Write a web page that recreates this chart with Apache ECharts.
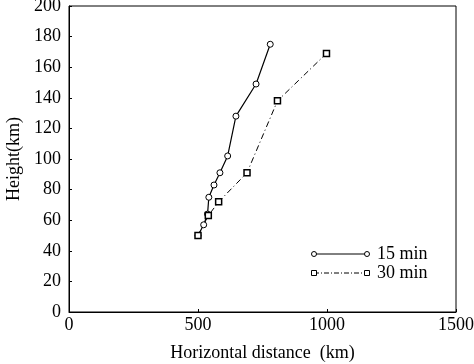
<!DOCTYPE html>
<html><head><meta charset="utf-8">
<script src="https://cdn.jsdelivr.net/npm/echarts@6/dist/echarts.min.js"></script>
<style>html,body{margin:0;padding:0;background:#fff}#c{width:474px;height:364px}</style>
</head><body><div id="c"></div>
<script>
const xTicks = [0, 500, 1000, 1500];
const yTicks = [0, 20, 40, 60, 80, 100, 120, 140, 160, 180, 200];
const s15x = [500, 522, 537, 542, 562, 585, 615, 647, 725, 780];
const s15y = [50, 57, 64, 75, 83, 91, 102, 128, 149, 175];
const s30x = [500, 540, 580, 690, 808, 998];
const s30y = [50, 63, 72, 91, 138, 169];
const names = ['15 min', '30 min'];

const font = '"Liberation Serif", "DejaVu Serif", serif';
const fs = 18;
const chart = echarts.init(document.getElementById('c'));
const axisCommon = {
  axisLine: {show: true, lineStyle: {color: '#000', width: 1}},
  axisTick: {show: true, inside: true, length: 3, lineStyle: {color: '#000'}},
  splitLine: {show: false},
  axisLabel: {color: '#000', fontFamily: font, fontSize: fs, formatter: v => String(v)}
};
chart.setOption({
  animation: false,
  backgroundColor: '#fff',
  grid: {left: 69, right: 18, top: 6, bottom: 52, show: true, borderColor: '#000', borderWidth: 1,
         containLabel: false, outerBoundsMode: 'none'},
  xAxis: Object.assign({}, axisCommon, {
    type: 'value', min: xTicks[0], max: xTicks[xTicks.length-1], interval: 500,
    name: 'Horizontal distance  (km)', nameLocation: 'middle', nameGap: 32,
    nameTextStyle: {color: '#000', fontFamily: font, fontSize: fs},
    axisLabel: Object.assign({}, axisCommon.axisLabel, {margin: 4})
  }),
  yAxis: Object.assign({}, axisCommon, {
    type: 'value', min: yTicks[0], max: yTicks[yTicks.length-1], interval: 20,
    name: 'Height(km)', nameLocation: 'middle', nameGap: 46,
    nameTextStyle: {color: '#000', fontFamily: font, fontSize: fs},
    axisLabel: Object.assign({}, axisCommon.axisLabel, {margin: 8})
  }),
  series: [
    {name: names[0], type: 'line', data: s15x.map((x,i)=>[x, s15y[i]]),
     symbol: 'circle', symbolSize: 6, showSymbol: true,
     itemStyle: {color: '#fff', borderColor: '#000', borderWidth: 1},
     lineStyle: {color: '#000', width: 1.2}},
    {name: names[1], type: 'line', data: s30x.map((x,i)=>[x, s30y[i]]),
     symbol: 'rect', symbolSize: 6, showSymbol: true,
     itemStyle: {color: '#fff', borderColor: '#000', borderWidth: 1.5},
     lineStyle: {color: '#000', width: 1, type: [6, 3, 1, 3]}}
  ],
  graphic: [
    {type: 'line', shape: {x1: 314, y1: 254, x2: 367, y2: 254}, style: {stroke: '#000', lineWidth: 1}},
    {type: 'circle', shape: {cx: 314, cy: 254, r: 2.5}, style: {fill: '#fff', stroke: '#000', lineWidth: 1}},
    {type: 'circle', shape: {cx: 367, cy: 254, r: 2.5}, style: {fill: '#fff', stroke: '#000', lineWidth: 1}},
    {type: 'text', x: 377, y: 254, style: {text: names[0], font: fs + 'px ' + font, fill: '#000', verticalAlign: 'middle'}},
    {type: 'line', shape: {x1: 314, y1: 273, x2: 367, y2: 273}, style: {stroke: '#000', lineWidth: 1, lineDash: [5, 2, 1, 2]}},
    {type: 'rect', shape: {x: 311.5, y: 270.5, width: 5, height: 5}, style: {fill: '#fff', stroke: '#000', lineWidth: 1}},
    {type: 'rect', shape: {x: 364.5, y: 270.5, width: 5, height: 5}, style: {fill: '#fff', stroke: '#000', lineWidth: 1}},
    {type: 'text', x: 377, y: 273, style: {text: names[1], font: fs + 'px ' + font, fill: '#000', verticalAlign: 'middle'}}
  ]
});
</script></body></html>
